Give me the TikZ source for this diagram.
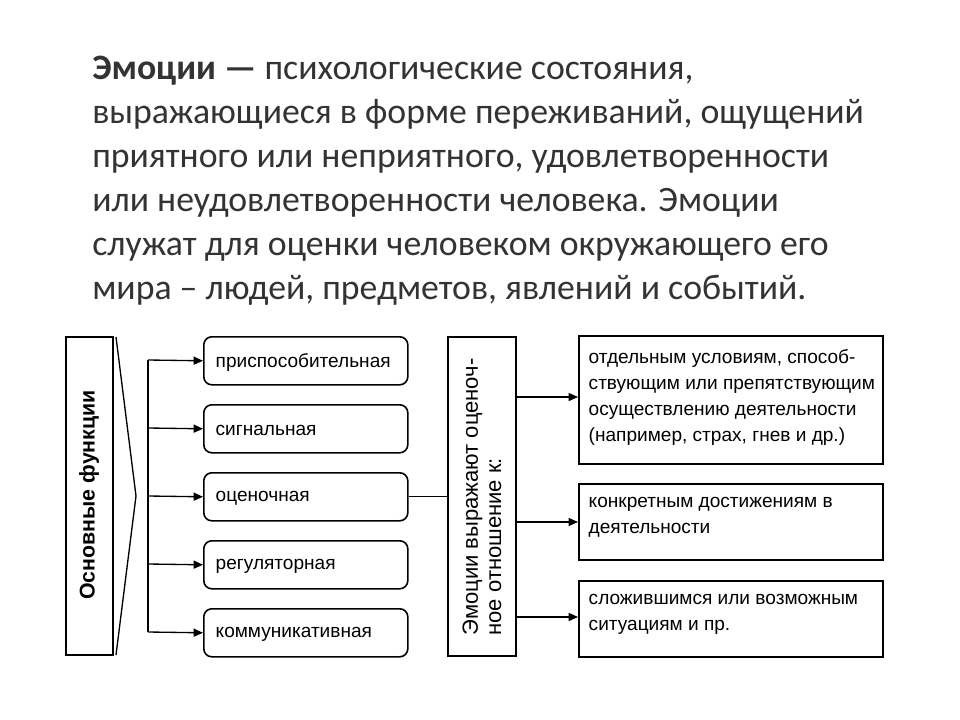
\documentclass[tikz,border=0pt]{standalone}
\usepackage{fontspec}
\setmainfont{Carlito}
\newfontfamily\diag{Liberation Sans}
\usetikzlibrary{arrows.meta}
\begin{document}
\begin{tikzpicture}[x=0.75pt,y=-0.75pt,
  line/.style={anchor=base west,inner sep=0,font=\fontsize{26.8}{30}\selectfont,text=black!80},
  rbox/.style={draw,line width=1.2pt,rounded corners=6pt,minimum width=204*0.75pt,minimum height=48*0.75pt,anchor=north west,inner sep=0},
  sbox/.style={draw,line width=1.2pt,anchor=north west,inner sep=0},
  lbl/.style={font=\diag\fontsize{14.3}{19.5}\selectfont,anchor=west},
  arr/.style={-{Triangle[length=7pt,width=6pt]},line width=1pt}]
\useasboundingbox (0,0) rectangle (960,720);
\node[line] (t1) at (92,80) {\textbf{Эмоции —} психологические состояния,};
\node[line] (t2) at (92,124) {выражающиеся в форме переживаний, ощущений};
\node[line] (t3) at (92,168) {приятного или неприятного, удовлетворенности};
\node[line] (t4) at (92,212) {или неудовлетворенности человека. Эмоции};
\node[line] (t5) at (92,256) {служат для оценки человеком окружающего его};
\node[line] (t6) at (92,300) {мира – людей, предметов, явлений и событий.};
% left box
\node[sbox,minimum width=47*0.75pt,minimum height=318*0.75pt] (L) at (65,336) {};
\node[rotate=90,font=\diag\bfseries\fontsize{16}{18}\selectfont] (Lt) at (89,495) {Основные функции};
\coordinate (ta) at (116,337); \coordinate (tb) at (136,496); \coordinate (tc) at (116,655);
\draw[line width=1pt] (ta) -- (tb) -- (tc);
% rounded boxes
\foreach \n/\y/\t in {1/336/приспособительная,2/404/сигнальная,3/472/оценочная,4/540/регуляторная,5/608/коммуникативная}{
  \node[rbox] (b\n) at (203,\y) {};
  \node[lbl] (bt\n) at (211,\y+26) {\t};
  \coordinate (s\n) at (148,\y+24);
  \draw[arr] (s\n) -- (b\n.west);
}
\draw[line width=1pt] (s1) -- (s5);
% middle box
\node[sbox,minimum width=68*0.75pt,minimum height=319*0.75pt] (M) at (447,336) {};
\node[rotate=90,font=\diag\fontsize{16.5}{17.5}\selectfont,align=left,anchor=center] (Mt) at (482,497) {Эмоции выражают оценоч-\\ное отношение к:};
\draw[line width=1pt] (b3.east) -- (b3.east -| M.west);
% right boxes
\node[sbox,minimum width=304*0.75pt,minimum height=128*0.75pt] (R1) at (578,335) {};
\node[sbox,minimum width=304*0.75pt,minimum height=76*0.75pt] (R2) at (578,483) {};
\node[sbox,minimum width=304*0.75pt,minimum height=76*0.75pt] (R3) at (578,580) {};
\node[lbl,anchor=north west,align=left] (R1t) at (584,345) {отдельным условиям, способ-\\ствующим или препятствующим\\осуществлению деятельности\\(например, страх, гнев и др.)};
\node[lbl,anchor=north west,align=left] (R2t) at (584,493) {конкретным достижениям в\\деятельности};
\node[lbl,anchor=north west,align=left] (R3t) at (584,590) {сложившимся или возможным\\ситуациям и пр.};
\coordinate (m1) at (515,397); \coordinate (m2) at (515,522); \coordinate (m3) at (515,617);
\draw[arr] (m1) -- (m1 -| R1.west);
\draw[arr] (m2) -- (m2 -| R1.west);
\draw[arr] (m3) -- (m3 -| R1.west);
\end{tikzpicture}
\end{document}
